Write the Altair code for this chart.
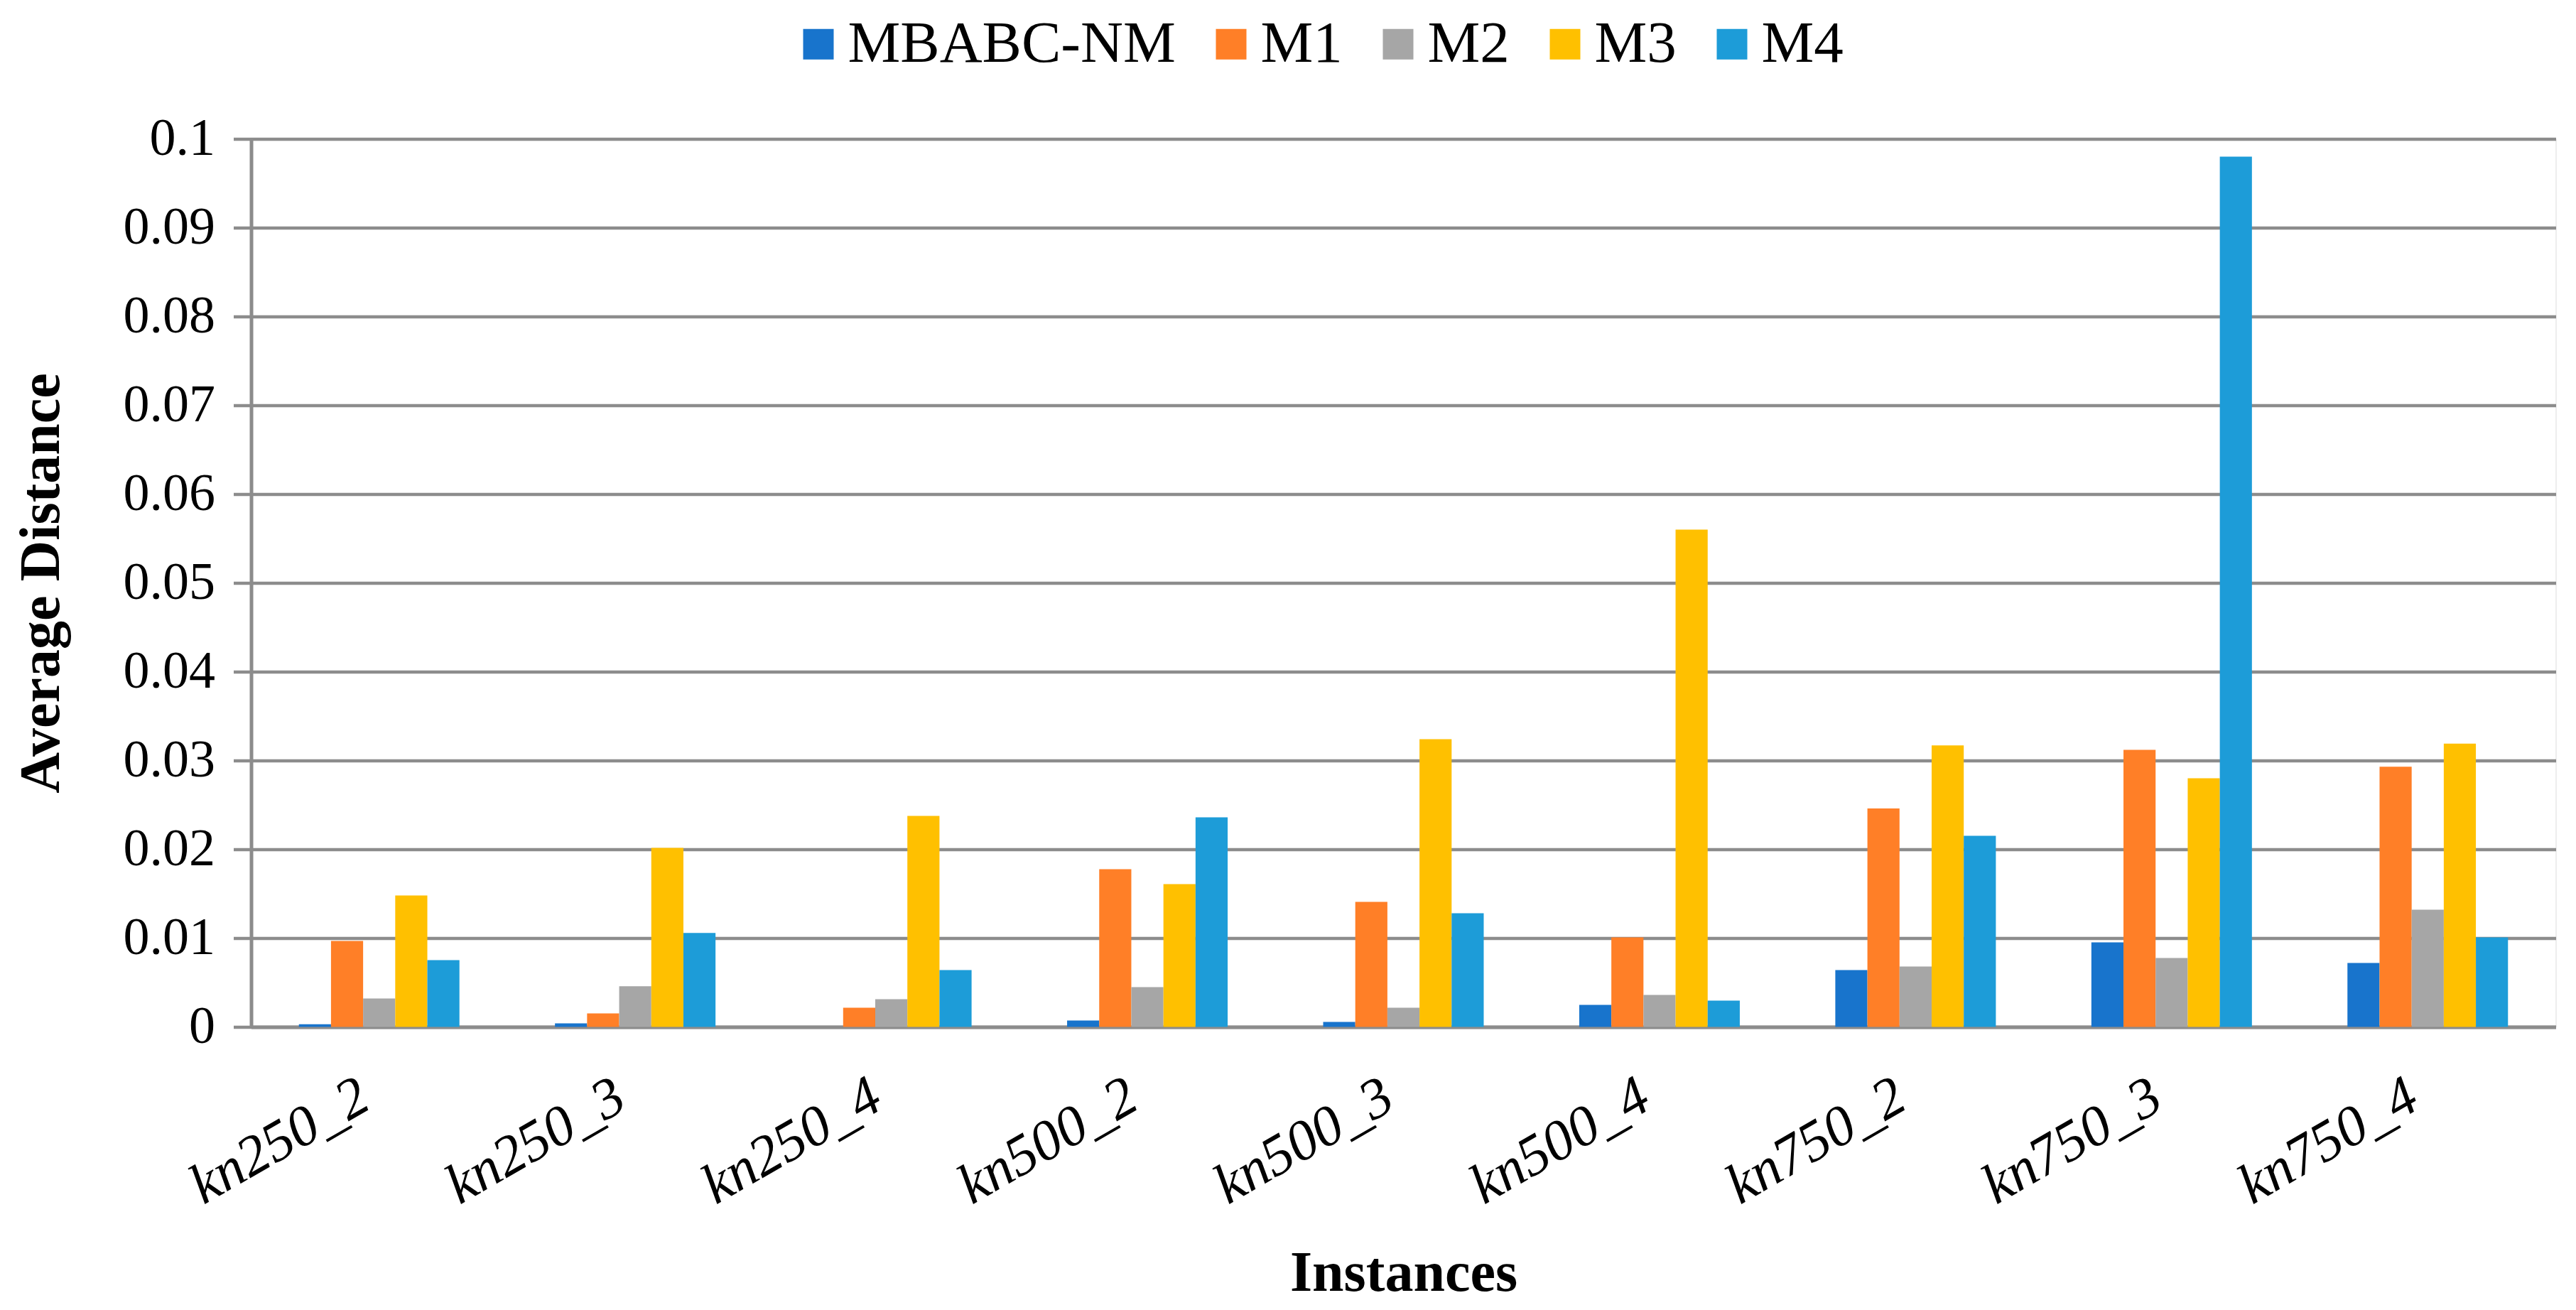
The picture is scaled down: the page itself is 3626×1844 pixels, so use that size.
import altair as alt
import pandas as pd

instances = ["kn250_2", "kn250_3", "kn250_4", "kn500_2", "kn500_3",
             "kn500_4", "kn750_2", "kn750_3", "kn750_4"]
methods = ["MBABC-NM", "M1", "M2", "M3", "M4"]
colors = ["#1874CC", "#FF7F27", "#A6A6A6", "#FFC000", "#1D9CD8"]

mbabc_nm = [0.0003, 0.0004, 0.0, 0.00072, 0.00056, 0.00248, 0.0064, 0.00952, 0.0072]
m1 = [0.00968, 0.00152, 0.00216, 0.01776, 0.01408, 0.01008, 0.0246, 0.0312, 0.0293]
m2 = [0.0032, 0.00459, 0.00312, 0.00448, 0.00216, 0.0036, 0.0068, 0.00776, 0.0132]
m3 = [0.0148, 0.02016, 0.02376, 0.01608, 0.0324, 0.056, 0.0317, 0.028, 0.0319]
m4 = [0.00752, 0.01059, 0.0064, 0.0236, 0.0128, 0.00296, 0.02152, 0.098, 0.01008]

y_ticks = [0, 0.01, 0.02, 0.03, 0.04, 0.05, 0.06, 0.07, 0.08, 0.09, 0.1]

series = [mbabc_nm, m1, m2, m3, m4]
rows = []
for name, vals in zip(methods, series):
    for inst, v in zip(instances, vals):
        rows.append({"Instance": inst, "Method": name, "Value": v})
df = pd.DataFrame(rows)

FONT = "Liberation Serif"
GRID = "#8C8C8C"

chart = alt.Chart(df).mark_bar().encode(
    x=alt.X("Instance:N", sort=instances,
            scale=alt.Scale(paddingInner=0.373, paddingOuter=0.1865),
            axis=alt.Axis(title="Instances", labelAngle=-30, labelFont=FONT,
                          labelFontStyle="italic", labelFontSize=80,
                          labelColor="black", labelPadding=58, labelLimit=0,
                          labelOffset=-40,
                          labelAlign="right", labelBaseline="top",
                          ticks=False, domainColor=GRID, domainWidth=5,
                          titleFont=FONT, titleFontSize=80, titleFontWeight="bold",
                          titleColor="black", titlePadding=108)),
    xOffset=alt.XOffset("Method:N", sort=methods,
                        scale=alt.Scale(paddingInner=0, paddingOuter=0)),
    y=alt.Y("Value:Q",
            scale=alt.Scale(domain=[0, 0.1], nice=False, zero=True),
            axis=alt.Axis(title="Average Distance", values=y_ticks, format=".2~f",
                          labelFont=FONT, labelFontSize=74, labelColor="black",
                          labelPadding=26, labelLimit=0, tickSize=25, tickWidth=4.5,
                          tickColor=GRID, domainColor=GRID, domainWidth=5,
                          grid=True, gridColor=GRID, gridWidth=4.5,
                          titleFont=FONT, titleFontSize=80, titleFontWeight="bold",
                          titleColor="black", titlePadding=74)),
    color=alt.Color("Method:N", sort=methods,
                    scale=alt.Scale(domain=methods, range=colors),
                    legend=alt.Legend(orient="none", legendX=757, legendY=-175,
                                      direction="horizontal", columns=5,
                                      title=None, symbolType="square",
                                      symbolSize=1849, symbolStrokeWidth=0,
                                      labelFont=FONT, labelFontSize=83,
                                      labelLimit=0,
                                      labelColor="black", labelOffset=0,
                                      columnPadding=36, padding=0)),
).properties(
    width=3244,
    height=1250,
    autosize=alt.AutoSizeParams(type="none"),
    padding={"left": 345.5, "top": 187.5, "right": 20, "bottom": 390},
).configure_view(stroke=None).configure(background="white")

chart.save("out.html", embed_options={"renderer": "svg", "actions": False})
